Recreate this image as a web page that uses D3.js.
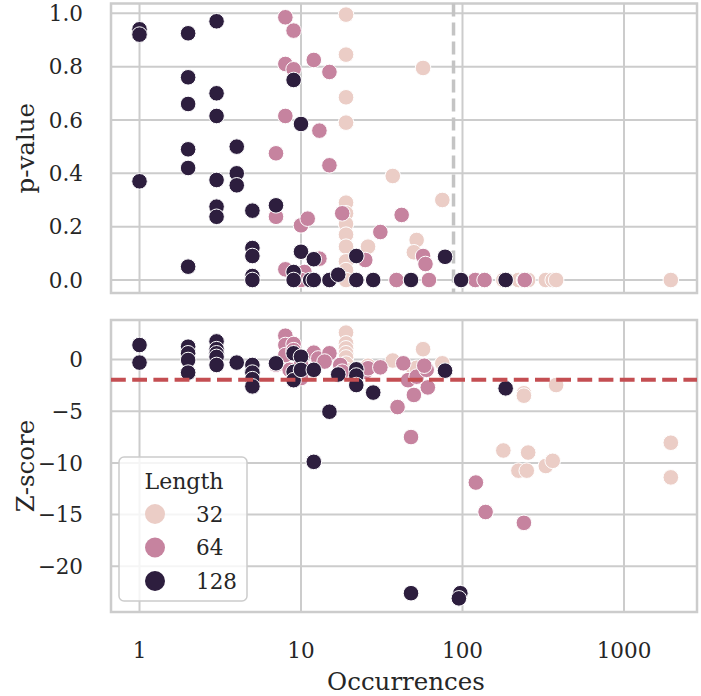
<!DOCTYPE html>
<html>
<head>
<meta charset="utf-8">
<script src="https://cdn.jsdelivr.net/npm/d3@7"></script>
<style>
  body { margin: 0; background: #fff; }
  text { font-family: "DejaVu Serif", serif; fill: #262626; }
</style>
</head>
<body>
<svg width="701" height="696"></svg>
<script>
// data: [occurrences, value]
const lengths = [32, 64, 128];
const occTicks = [1, 10, 100, 1000];
const pTicks = [0, 0.2, 0.4, 0.6, 0.8, 1.0];
const zTicks = [-20, -15, -10, -5, 0];
const occThreshold = 88;
const zThreshold = -1.96;

const p32 = [[19,0.995],[19,0.845],[57,0.795],[19,0.685],[19,0.59],[37,0.39],[75,0.30],[19,0.29],
  [19,0.25],[19,0.21],[19,0.17],[19,0.125],[19,0.07],[19,0.037],[19,0.0],[26,0.125],[52,0.15],
  [50,0.104],[179,0],[222,0],[240,0],[250,0],[255,0],[328,0],[362,0],[380,0],[1950,0]];
const p64 = [[8,0.985],[9,0.935],[8,0.81],[9,0.79],[8,0.615],[7,0.475],[7,0.237],[10,0.205],[8,0.04],
  [12,0.825],[15,0.78],[13,0.56],[15,0.43],[11,0.23],[18,0.25],[42,0.244],[31,0.18],[25,0.075],
  [13,0.08],[57,0.09],[59,0.06],[10.5,0.03],[10,0],[39,0],[48,0],[62,0],[120,0],[137,0],[243,0]];
const p128 = [[1,0.94],[1,0.92],[1,0.37],[2,0.925],[2,0.76],[2,0.66],[2,0.49],[2,0.42],[2,0.05],
  [3,0.97],[3,0.70],[3,0.615],[3,0.375],[3,0.275],[3,0.237],[4,0.50],[4,0.40],[4,0.355],
  [5,0.26],[5,0.12],[5,0.09],[5,0.015],[5,0.0],[7,0.28],[9,0.75],[9,0.03],[9,0.0],[11.4,0.0],
  [10,0.585],[10,0.106],[12,0.078],[12,0.0],[15,0.0],[17,0.02],[22,0.09],[22,0.0],[28,0.0],
  [48,0.0],[78,0.087],[98,0.0],[185,0.0]];

const z32 = [[19,2.6],[19,1.56],[19,1.08],[19,0.6],[19,0.2],[19,-0.4],[19,-1.0],[22,-1.9],[26,-0.6],
  [37,-0.1],[50,-1.2],[52,-0.8],[57,1.0],[75,-0.37],[179,-8.8],[222,-10.75],[240,-3.27],[240,-3.5],
  [250,-10.75],[255,-9.0],[328,-10.3],[362,-9.8],[380,-2.47],[1950,-8.05],[1950,-11.4]];
const z64 = [[7,-0.5],[8,2.3],[8,1.4],[8,0.43],[9,1.5],[9,0.9],[8.5,-1.0],[9,-2.0],[10,-0.5],[10,-1.8],
  [12,0.66],[12.8,0.1],[15,0.6],[14,-0.2],[17.5,-0.53],[18,-1.18],[25,-1.18],[26,-0.85],[31,-0.76],
  [43,-0.37],[46,-2.0],[50,-3.43],[39.6,-4.6],[48,-7.5],[52,-1.66],[60,-1.0],[61,-2.7],[58,-0.6],
  [121,-11.9],[139,-14.75],[240,-15.8]];
const z128 = [[1,1.4],[1,-0.3],[2,1.24],[2,0.6],[2,-0.05],[2,-1.27],[3,1.75],[3,1.0],[3,0.6],[3,0.25],
  [3,-0.53],[4,-0.3],[5,-0.53],[5,-1.27],[5,-1.9],[5,-2.6],[7,-0.37],[9,0.6],[9,-1.2],[9,-2.0],
  [10,0.27],[10,-1.0],[12,-1.0],[12,-9.9],[15,-5.05],[17,-1.45],[22,-0.95],[22,-1.55],[22,-2.47],
  [28,-3.2],[48,-22.6],[78,-1.08],[97,-22.6],[95,-23.1],[185,-2.79]];

const colorScale = d3.scaleOrdinal().domain(lengths).range(['#ebcdc6', '#c6839f', '#2d1e3e']);

const svg = d3.select('svg');
const left = 111, right = 697;
const tickSize = 21.5, labelSize = 24.5;

const xScale = d3.scaleLog().domain([0.666, 2832]).range([left, right]);

const panel = (selection, { top, bottom, yDomain, yTicks, yFormat, yLabel, series, hLine, vLine }) => {
  const yScale = d3.scaleLinear().domain(yDomain).range([bottom, top]);
  const g = selection.append('g');

  g.append('g').selectAll('line.xgrid').data(occTicks).join('line')
    .attr('x1', d => xScale(d)).attr('x2', d => xScale(d))
    .attr('y1', top).attr('y2', bottom)
    .attr('stroke', '#cccccc').attr('stroke-width', 2);

  g.append('g').selectAll('line.ygrid').data(yTicks).join('line')
    .attr('x1', left).attr('x2', right)
    .attr('y1', d => yScale(d)).attr('y2', d => yScale(d))
    .attr('stroke', '#cccccc').attr('stroke-width', 2);

  g.append('rect')
    .attr('x', left).attr('y', top)
    .attr('width', right - left).attr('height', bottom - top)
    .attr('fill', 'none').attr('stroke', '#cccccc').attr('stroke-width', 2.5);

  g.append('g').selectAll('text').data(yTicks).join('text')
    .attr('x', 83).attr('y', d => yScale(d))
    .attr('dy', '0.36em').attr('text-anchor', 'end')
    .attr('font-size', tickSize)
    .text(yFormat);

  g.append('text')
    .attr('transform', `translate(25,${(top + bottom) / 2}) rotate(-90)`)
    .attr('text-anchor', 'middle').attr('dy', '0.36em')
    .attr('font-size', labelSize)
    .text(yLabel);

  if (vLine) {
    g.append('line')
      .attr('x1', xScale(vLine)).attr('x2', xScale(vLine))
      .attr('y1', top).attr('y2', bottom)
      .attr('stroke', '#c4c4c4').attr('stroke-width', 3.5)
      .attr('stroke-dasharray', '13,6');
  }

  series.forEach(({ length, values }) => {
    g.append('g').selectAll('circle').data(values).join('circle')
      .attr('cx', d => xScale(d[0]))
      .attr('cy', d => yScale(d[1]))
      .attr('r', 7.8)
      .attr('fill', colorScale(length))
      .attr('stroke', '#fff').attr('stroke-width', 1);
  });

  if (hLine !== undefined) {
    g.append('line')
      .attr('x1', left).attr('x2', right)
      .attr('y1', yScale(hLine)).attr('y2', yScale(hLine))
      .attr('stroke', '#c44e52').attr('stroke-width', 4)
      .attr('stroke-dasharray', '14.8,6.4');
  }
};

svg.call(panel, {
  top: 3.5, bottom: 293,
  yDomain: [-0.0487, 1.0367],
  yTicks: pTicks,
  yFormat: d3.format('.1f'),
  yLabel: 'p-value',
  series: [{ length: 32, values: p32 }, { length: 64, values: p64 }, { length: 128, values: p128 }],
  vLine: occThreshold
});

svg.call(panel, {
  top: 320, bottom: 612,
  yDomain: [-24.42, 3.82],
  yTicks: zTicks,
  yFormat: d3.format('d'),
  yLabel: 'Z-score',
  series: [{ length: 32, values: z32 }, { length: 64, values: z64 }, { length: 128, values: z128 }],
  hLine: zThreshold
});

// x tick labels + title
svg.append('g').selectAll('text').data(occTicks).join('text')
  .attr('x', d => xScale(d)).attr('y', 650)
  .attr('dy', '0.36em').attr('text-anchor', 'middle')
  .attr('font-size', tickSize)
  .text(d => d);

svg.append('text')
  .attr('x', (left + right) / 2 + 2).attr('y', 681)
  .attr('dy', '0.36em').attr('text-anchor', 'middle')
  .attr('font-size', labelSize)
  .text('Occurrences');

// legend
const legend = svg.append('g');
legend.append('rect')
  .attr('x', 119).attr('y', 457).attr('width', 128).attr('height', 144).attr('rx', 5)
  .attr('fill', '#fff').attr('fill-opacity', 0.8)
  .attr('stroke', '#cccccc').attr('stroke-width', 1.5);
legend.append('text')
  .attr('x', 184).attr('y', 481).attr('dy', '0.36em').attr('text-anchor', 'middle')
  .attr('font-size', 22).text('Length');
const items = legend.selectAll('g.item').data(lengths).join('g')
  .attr('class', 'item')
  .attr('transform', (d, i) => `translate(155,${514 + i * 33.5})`);
items.append('circle').attr('r', 10).attr('fill', d => colorScale(d));
items.append('text').attr('x', 41).attr('dy', '0.36em').attr('font-size', tickSize).text(d => d);
</script>
</body>
</html>
